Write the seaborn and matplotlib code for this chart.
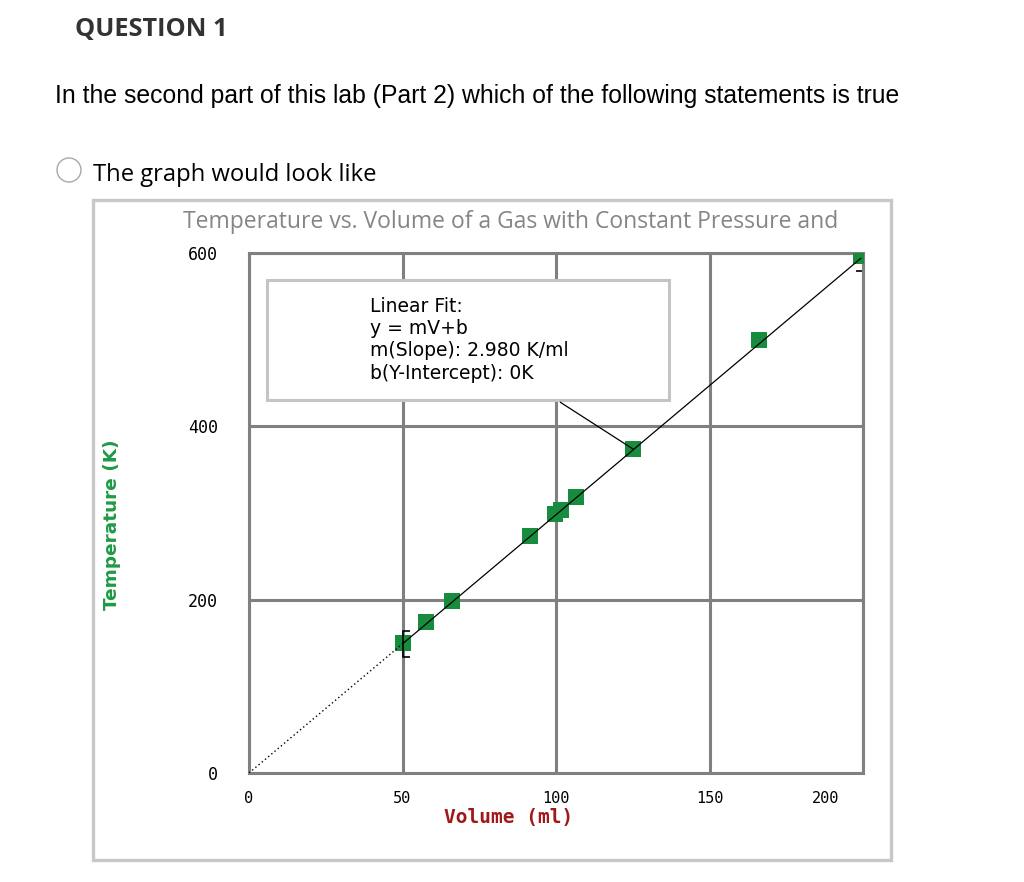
import numpy as np
import pandas as pd
import seaborn as sns
import matplotlib.pyplot as plt
import matplotlib.transforms as mtransforms
from matplotlib.patches import Rectangle, Circle
from matplotlib.path import Path
from matplotlib.ticker import MultipleLocator

# values
volume_ml = [50.0, 57.8, 66.2, 91.6, 99.7, 101.6, 106.5, 125.0, 166.2, 199.3]
temperature_k = [150, 174, 199, 274, 299, 304, 319, 374, 500, 596]

fit_slope = 2.980
fit_intercept = 0.0
fit_text = ["Linear Fit:", "y = mV+b", "m(Slope): 2.980 K/ml", "b(Y-Intercept): 0K"]
callout_index = 7  # point the fit box points to

x_ticks = [0, 50, 100, 150, 200]
y_ticks = [0, 200, 400, 600]

df = pd.DataFrame({'volume': volume_ml, 'temperature': temperature_k})

sns.set_style('white')
fig = plt.figure(figsize=(10.24, 8.82), dpi=100)

# page text around the chart
fig.text(75 / 1024, 1 - 29 / 882, 'QUESTION 1', family='Open Sans', weight='bold',
         fontsize=18.3, color='#333333', va='center')
fig.text(55 / 1024, 1 - 96 / 882,
         'In the second part of this lab (Part 2) which of the following statements is true',
         family='Liberation Sans', fontsize=17.8, color='black', va='center')
fig.patches.append(Circle((69 / 100, (882 - 170) / 100), 0.12, transform=fig.dpi_scale_trans,
                          facecolor='white', edgecolor='#a8a8a8', lw=1))
fig.text(93 / 1024, 1 - 175 / 882, 'The graph would look like', family='Open Sans',
         fontsize=17.1, color='black', va='center')

# light frame round the graph
fig.patches.append(Rectangle((93 / 1024, 1 - 860 / 882), 798 / 1024, 660 / 882,
                             transform=fig.transFigure, fill=False, edgecolor='#c8c8c8', lw=2.4))

ax = fig.add_axes([249 / 1024, 1 - 773 / 882, 614 / 1024, 520 / 882])

grid_col = '#808080'
ax.set_xlim(0, 200)
ax.set_ylim(0, 600)
ax.set_xticks(x_ticks)
ax.set_yticks(y_ticks)
ax.yaxis.set_minor_locator(MultipleLocator(100))
ax.set_axisbelow(True)
ax.grid(True, which='major', color=grid_col, lw=2.2)
for s in ax.spines.values():
    s.set_color(grid_col)
    s.set_linewidth(2.2)

ax.tick_params(axis='x', which='major', direction='out', length=4, width=1, color=grid_col, pad=9,
               labelsize=11, labelcolor='black')
ax.tick_params(axis='y', which='major', direction='out', length=6.5, width=1, color=grid_col, pad=16,
               labelsize=12, labelcolor='black')
ax.tick_params(axis='y', which='minor', direction='out', length=2.5, width=1, color=grid_col)
for lab in ax.get_xticklabels() + ax.get_yticklabels():
    lab.set_family('DejaVu Sans Mono')

# fit line: dotted extrapolation from zero, solid across the measured range
x_lo, x_hi = min(volume_ml), max(volume_ml)
ext_x = [0, x_lo]
fit_x = [x_lo, x_hi]
sns.lineplot(x=ext_x, y=[fit_slope * v + fit_intercept for v in ext_x], ax=ax,
             color='black', lw=1, linestyle=(0, (1, 2)), zorder=5)
sns.scatterplot(data=df, x='volume', y='temperature', ax=ax, marker='s', s=135,
                color='#178c3f', linewidth=0, zorder=4)
sns.lineplot(x=fit_x, y=[fit_slope * v + fit_intercept for v in fit_x], ax=ax,
             color='black', lw=0.9, zorder=5)

# range brackets at both ends of the fit
left_br = Path([(0.5, 1), (0, 1), (0, -1), (0.5, -1)])
right_br = Path([(-0.4, 1), (0.35, 1), (0.35, -1), (-0.4, -1)])
ax.plot([x_lo], [fit_slope * x_lo + fit_intercept], marker=left_br, ms=19, mfc='none',
        mec='black', mew=1.2, zorder=6)
ax.plot([x_hi], [fit_slope * x_hi + fit_intercept], marker=right_br, ms=19, mfc='none',
        mec='black', mew=1.2, zorder=2.4)

# fit box with its pointer
ax.add_patch(Rectangle((0.029, 0.717), 0.655, 0.231, transform=ax.transAxes,
                       facecolor='white', edgecolor='#c4c4c4', lw=2.2, zorder=3))
for i, line in enumerate(fit_text):
    ax.text(0.197, 0.898 - i * 0.043, line, transform=ax.transAxes, fontsize=13.5,
            family='DejaVu Sans', color='black', va='center', zorder=6)
ax.annotate('', xy=(volume_ml[callout_index], temperature_k[callout_index]),
            xytext=(0.507, 0.713), textcoords='axes fraction',
            arrowprops=dict(arrowstyle='-', color='black', lw=0.9, shrinkA=0, shrinkB=0), zorder=6)

ax.text(0.426, 1.06, 'Temperature vs. Volume of a Gas with Constant Pressure and',
        transform=ax.transAxes, ha='center', va='center', family='Open Sans',
        fontsize=16.5, color='#858585')

ax.set_xlabel('Volume (ml)', family='DejaVu Sans Mono', weight='bold', fontsize=14,
              color='#a01818', va='center')
ax.xaxis.set_label_coords(0.4225, -0.086)
ax.set_ylabel('Temperature (K)', family='DejaVu Sans', weight='bold', fontsize=13.3,
              color='#1f9a45', va='center')
ax.yaxis.set_label_coords(-0.2235, 0.477)

# the last x label sits left of its tick in the original
last = ax.get_xticklabels()[-1]
last.set_transform(last.get_transform() + mtransforms.ScaledTranslation(-0.37, 0, fig.dpi_scale_trans))

fig.savefig('out.png', dpi=100)
